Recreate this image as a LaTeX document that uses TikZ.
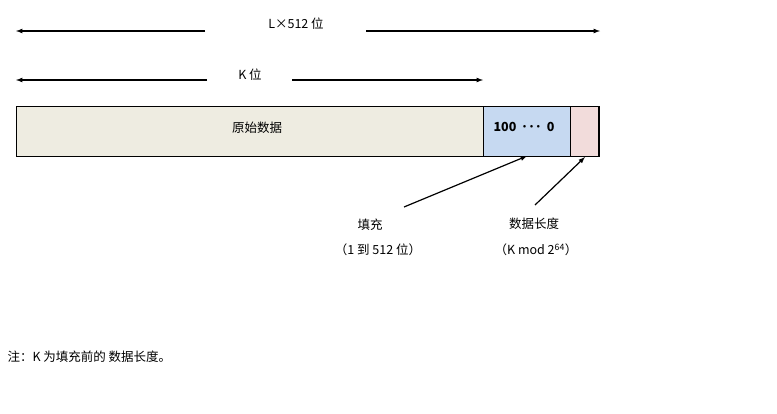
\documentclass[tikz,border=0pt]{standalone}
\usepackage{fontspec}
\setmainfont{Noto Sans CJK SC}
\begin{document}
\begin{tikzpicture}[x=1pt,y=-1pt,font=\fontsize{12.5}{15}\selectfont,
  arr/.style={-latex,line width=1.2pt},
  lbl/.style={inner sep=1pt}]
\useasboundingbox[fill=white] (0,0) rectangle (777,413);
% top dimension
\node[lbl] (t1) at (296,24) {L×512 位};
\coordinate (a1) at (16,31); \coordinate (a2) at (205,31);
\coordinate (a3) at (366,31); \coordinate (a4) at (600,31);
\draw[arr] (a2) -- (a1);
\draw[arr] (a3) -- (a4);
\node[lbl] (t2) at (250,75) {K 位};
\coordinate (b1) at (16,80); \coordinate (b2) at (207,80);
\coordinate (b3) at (292,80); \coordinate (b4) at (483,80);
\draw[arr] (b2) -- (b1);
\draw[arr] (b3) -- (b4);
% boxes
\draw[fill={rgb,255:red,238;green,236;blue,225}] (16,106) rectangle (483,156);
\node (raw) at (257,128) {原始数据};
\draw[fill={rgb,255:red,198;green,217;blue,241}] (483,106) rectangle (570,156);
\node (pad) at (524,127) {\textbf{100}\,·\hspace{-0.45em}·\hspace{-0.45em}·\,\textbf{0}};
\draw[fill={rgb,255:red,242;green,220;blue,219}] (570,106) rectangle (599,156);
\draw[line width=1.5pt] (599,106) -- (599,156);
\coordinate (p1) at (527,156);
\coordinate (p2) at (585,157);
% labels
\node (fill) at (370,225) {填充};
\node (fillr) at (378,250) {（1 到 512 位）};
\node (len) at (534,224) {数据长度};
\node (lenr) at (536,250) {（K mod 2\textsuperscript{64}）};
\coordinate (s1) at (404,207);
\coordinate (s2) at (535,205);
\draw[arr] (s1) -- (p1);
\draw[arr] (s2) -- (p2);
\node[anchor=west] (note) at (4,357) {注：K 为填充前的 数据长度。};
\end{tikzpicture}
\end{document}
